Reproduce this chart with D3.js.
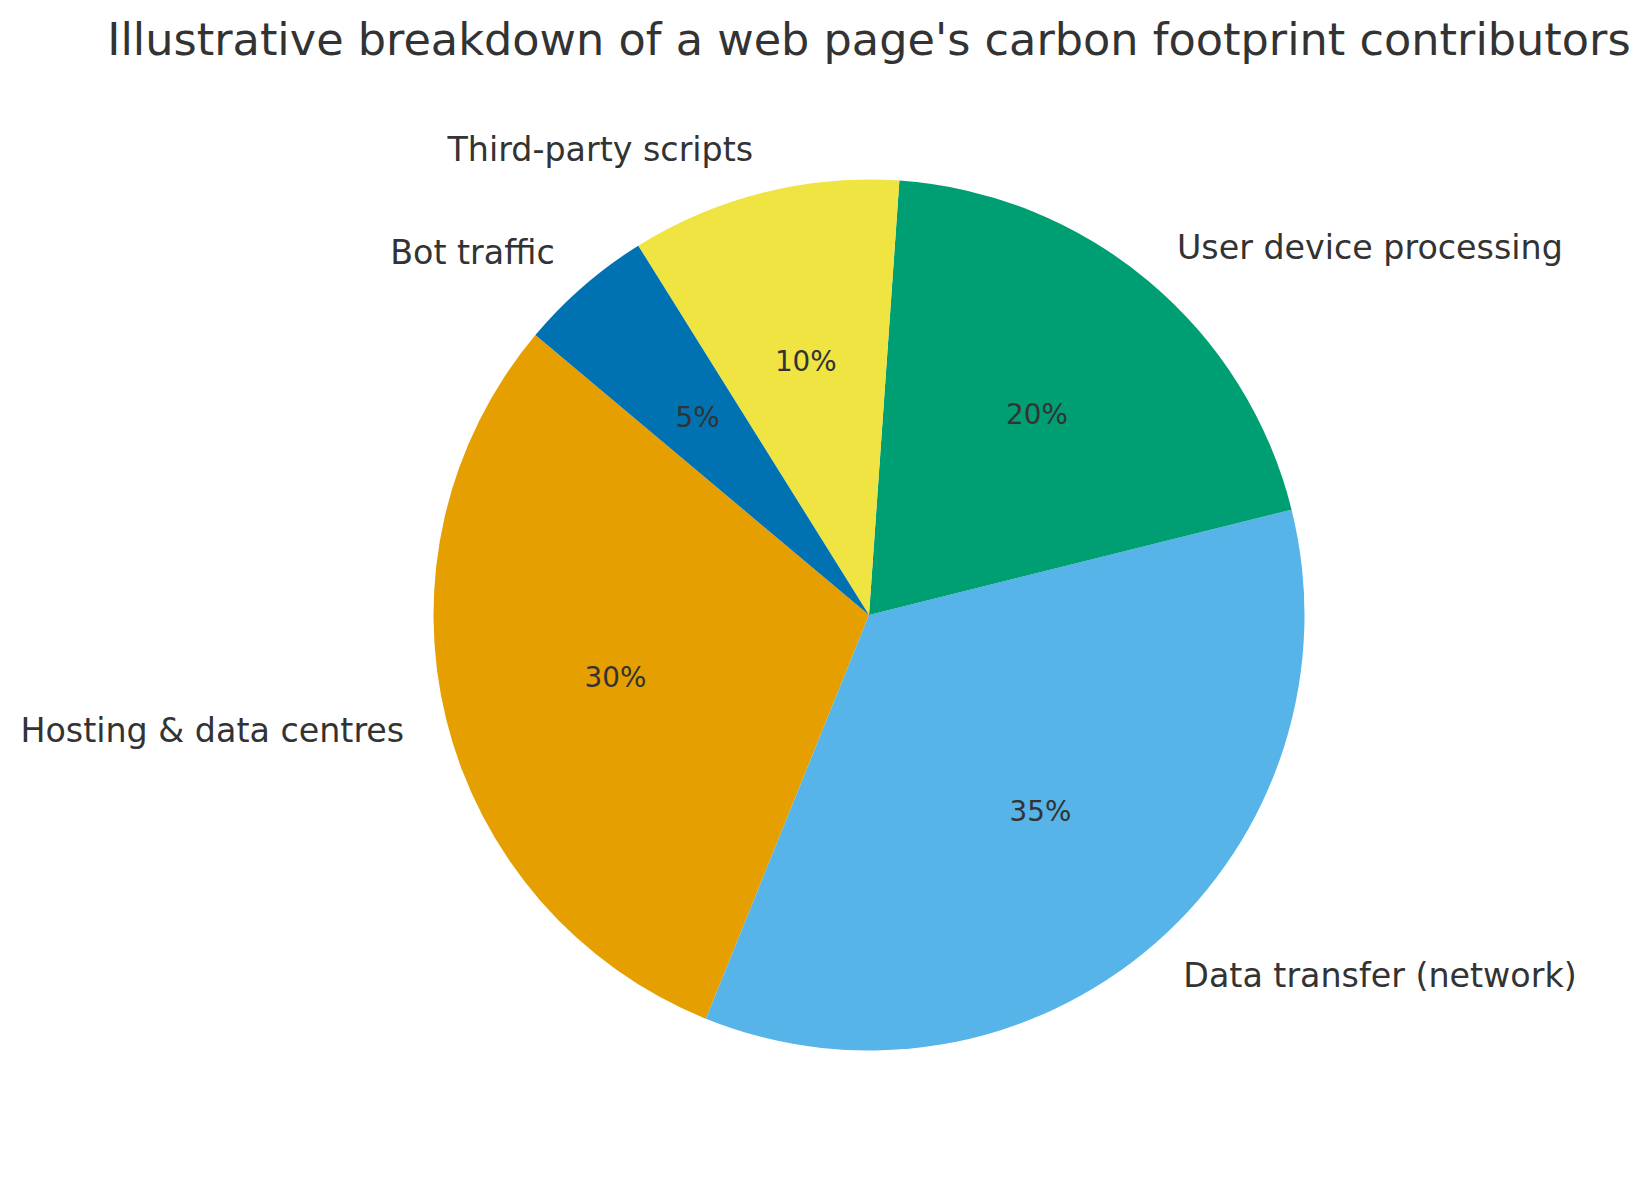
<!DOCTYPE html>
<html>
<head>
<meta charset="utf-8">
<script src="https://cdn.jsdelivr.net/npm/d3@7"></script>
<style>
  html, body { margin: 0; padding: 0; background: #fff; }
  svg { display: block; font-family: "DejaVu Sans", sans-serif; }
</style>
</head>
<body>
<svg id="chart"></svg>
<script>
const categories = ["Hosting & data centres", "Data transfer (network)", "User device processing", "Third-party scripts", "Bot traffic"];
const shares = [30, 35, 20, 10, 5];
const colours = ["#E69F00", "#56B4E9", "#009E73", "#F0E442", "#0072B2"];
const title = "Illustrative breakdown of a web page's carbon footprint contributors";

const width = 1649, height = 1180;
const cx = 869, cy = 615, r = 435.5;
const textColour = "#333333";

const svg = d3.select("#chart").attr("width", width).attr("height", height);

svg.append("text")
    .attr("x", cx).attr("y", 55)
    .attr("text-anchor", "middle")
    .attr("font-size", 44.6)
    .attr("fill", textColour)
    .text(title);

const data = categories.map((c, i) => ({ name: c, value: shares[i], colour: colours[i] }));

// matplotlib startangle=140, counterclockwise -> d3 angles (clockwise from 12 o'clock)
const start = (90 - 140) * Math.PI / 180;
const pie = d3.pie().value(d => d.value).sort(null)
    .startAngle(start).endAngle(start - 2 * Math.PI);

const arcs = pie(data);
const arc = d3.arc().innerRadius(0).outerRadius(r);

const g = svg.append("g").attr("transform", `translate(${cx},${cy})`);

g.selectAll("path")
    .data(arcs)
    .join("path")
    .attr("d", arc)
    .attr("fill", d => d.data.colour);

function midPoint(d, k) {
    const a = (d.startAngle + d.endAngle) / 2;
    return [Math.sin(a) * r * k, -Math.cos(a) * r * k];
}

// outer labels
g.selectAll("text.label")
    .data(arcs)
    .join("text")
    .attr("class", "label")
    .attr("x", d => midPoint(d, 1.1)[0])
    .attr("y", d => midPoint(d, 1.1)[1] + 0.32 * 33.3)
    .attr("text-anchor", d => midPoint(d, 1.1)[0] > 0 ? "start" : "end")
    .attr("font-size", 33.3)
    .attr("fill", textColour)
    .text(d => d.data.name);

// percentage labels
g.selectAll("text.pct")
    .data(arcs)
    .join("text")
    .attr("class", "pct")
    .attr("x", d => midPoint(d, 0.6)[0])
    .attr("y", d => midPoint(d, 0.6)[1] + 0.33 * 27.8)
    .attr("text-anchor", "middle")
    .attr("font-size", 27.8)
    .attr("fill", textColour)
    .text(d => d.data.value + "%");
</script>
</body>
</html>
